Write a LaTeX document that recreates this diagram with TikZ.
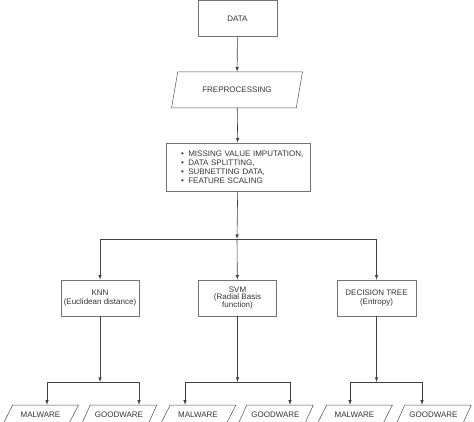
\documentclass[tikz,border=0pt]{standalone}
\usepackage{fontspec}
\setmainfont{Liberation Sans}
\usepackage{tikz}
\usetikzlibrary{arrows,shapes.geometric,positioning}

\newcommand{\itm}{\hspace*{13pt}\textbullet\hspace{4.5pt}}

\begin{document}
\begin{tikzpicture}[x=1pt,y=-1pt]
\tikzstyle{every node}=[font=\fontsize{8}{8.5}\selectfont, text=black!80]
\tikzstyle{box}=[rectangle, draw=black!55, line width=0.8pt, minimum width=78, minimum height=36, align=center, inner sep=1pt]
\tikzstyle{io}=[trapezium, trapezium left angle=72, trapezium right angle=108, trapezium stretches=true, draw=black!70, line width=0.5pt, minimum width=131, minimum height=36]
\tikzstyle{leaf}=[io, trapezium left angle=55, trapezium right angle=125, minimum width=76, minimum height=20]
\tikzstyle{arr}=[-latex, draw=black!75, line width=0.6pt]
\tikzstyle{line}=[draw=black!75, line width=0.6pt]

\clip (0,0) rectangle (474,422);

% top part
\node[box, minimum width=79] (data) at (237.5,18.5) {DATA};
\node[io] (prep) at (237,90) {FREPROCESSING};
\node[box, minimum width=144, minimum height=48, text width=140, align=left, font=\fontsize{8}{9}\selectfont] (steps) at (238,167)
  {\itm MISSING VALUE IMPUTATION,\\ \itm DATA SPLITTING,\\ \itm SUBNETTING DATA,\\ \itm FEATURE SCALING};

% models
\node[box] (knn) at (100,298) {KNN\\(Euclidean distance)};
\node[box, font=\fontsize{8}{7.8}\selectfont] (svm) at (237.5,298) {SVM\\(Radial Basis\\function)};
\node[box, minimum width=79] (dtree) at (376.5,298) {DECISION TREE\\(Entropy)};

% outputs
\node[leaf] (knnmal) at (40.5,415) {MALWARE};
\node[leaf] (knngood) at (119,415) {GOODWARE};
\node[leaf] (svmmal) at (198,415) {MALWARE};
\node[leaf] (svmgood) at (275.5,415) {GOODWARE};
\node[leaf] (dtmal) at (354.5,415) {MALWARE};
\node[leaf] (dtgood) at (433.5,415) {GOODWARE};

\coordinate (split) at (237,239);
\coordinate (km) at (47,382);
\coordinate (kg) at (139,382);
\coordinate (sm) at (185,382);
\coordinate (sg) at (290,382);
\coordinate (dm) at (350,382);
\coordinate (dg) at (422,382);

\draw[arr] (data) -- (prep);
\draw[arr] (prep) -- (steps);
\draw[arr] (steps) -- (split);
\draw[line] (knn.north |- split) -- (dtree.north |- split);
\draw[arr] (knn.north |- split) -- (knn);
\draw[arr] (split) -- (svm);
\draw[arr] (dtree.north |- split) -- (dtree);

\draw[arr] (knn) -- (knn |- km);
\draw[line] (km) -- (kg);
\draw[arr] (km) -- (km |- knnmal.north);
\draw[arr] (kg) -- (kg |- knngood.north);

\draw[arr] (svm) -- (svm |- sm);
\draw[line] (sm) -- (sg);
\draw[arr] (sm) -- (sm |- svmmal.north);
\draw[arr] (sg) -- (sg |- svmgood.north);

\draw[arr] (dtree) -- (dtree |- dm);
\draw[line] (dm) -- (dg);
\draw[arr] (dm) -- (dm |- dtmal.north);
\draw[arr] (dg) -- (dg |- dtgood.north);
\end{tikzpicture}
\end{document}
